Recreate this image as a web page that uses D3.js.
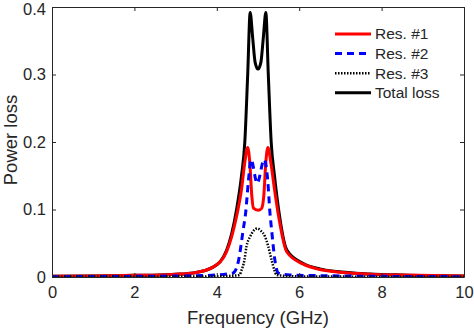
<!DOCTYPE html>
<meta charset="utf-8">
<body style="margin:0;background:#fff">
<style>
  text { font-family: "Liberation Sans", Arial, sans-serif; fill: #262626; }
  .line { fill: none; }
</style>
<script src="https://d3js.org/d3.v7.min.js"></script>
<script>
  // frequency (GHz) / power loss
  var totalF = [0, 1, 2, 2.62, 3, 3.43, 3.92, 4.24, 4.48, 4.6, 4.68, 4.75, 4.81, 4.87, 4.93, 5.0, 5.07, 5.13, 5.19, 5.25, 5.32, 5.4, 5.5, 5.7, 6.1, 6.5, 6.91, 7.72, 8.5, 10];
  var totalV = [0.001, 0.0015, 0.0025, 0.003, 0.004, 0.006, 0.015, 0.04, 0.1, 0.15, 0.2, 0.3, 0.392, 0.355, 0.318, 0.308, 0.318, 0.355, 0.392, 0.3, 0.2, 0.15, 0.1, 0.04, 0.02, 0.012, 0.008, 0.0045, 0.003, 0.0015];

  var res1F = [0, 1, 2, 2.62, 3, 3.43, 3.92, 4.24, 4.48, 4.6, 4.68, 4.75, 4.8, 4.85, 4.89, 5.0, 5.09, 5.14, 5.19, 5.24, 5.31, 5.4, 5.5, 5.7, 6.1, 6.5, 6.91, 7.72, 8.5, 10];
  var res1V = [0.001, 0.0015, 0.0025, 0.003, 0.004, 0.006, 0.015, 0.038, 0.09, 0.13, 0.17, 0.192, 0.17, 0.12, 0.102, 0.099, 0.102, 0.12, 0.17, 0.192, 0.17, 0.13, 0.09, 0.037, 0.019, 0.011, 0.0075, 0.0042, 0.0028, 0.0014];

  var res2F = [0, 2, 3, 3.5, 4, 4.3, 4.4, 4.53, 4.64, 4.7, 4.77, 4.83, 4.98, 5.15, 5.235, 5.29, 5.33, 5.41, 5.49, 5.6, 5.8, 6.5, 7, 8, 10];
  var res2V = [0.0005, 0.001, 0.0015, 0.002, 0.003, 0.005, 0.006, 0.025, 0.07, 0.095, 0.144, 0.174, 0.139, 0.174, 0.144, 0.095, 0.07, 0.025, 0.006, 0.004, 0.003, 0.002, 0.0015, 0.001, 0.0005];

  var res3F = [0, 3, 4, 4.4, 4.55, 4.6, 4.67, 4.72, 4.81, 4.9, 4.98, 5.06, 5.17, 5.25, 5.33, 5.4, 5.45, 5.6, 6, 7, 10];
  var res3V = [0.0003, 0.0006, 0.001, 0.002, 0.003, 0.01, 0.025, 0.045, 0.06, 0.069, 0.072, 0.069, 0.06, 0.045, 0.025, 0.01, 0.003, 0.002, 0.001, 0.0006, 0.0003];

  var xTicks = [0, 2, 4, 6, 8, 10];
  var yTicks = [0, 0.1, 0.2, 0.3, 0.4];

  var series = [
    {name: "Res. #1", f: res1F, v: res1V, color: "#ff0000", dash: null, w: 3},
    {name: "Res. #2", f: res2F, v: res2V, color: "#0000ff", dash: "7,5", w: 3},
    {name: "Res. #3", f: res3F, v: res3V, color: "#000", dash: "1.5,1.5", w: 2.5},
    {name: "Total loss", f: totalF, v: totalV, color: "#000", dash: null, w: 3}
  ];

  var width = 474, height = 331;
  var m = {left: 52, right: 10, top: 7, bottom: 54};

  var x = d3.scaleLinear().domain([0, 10]).range([m.left, width - m.right]);
  var y = d3.scaleLinear().domain([0, 0.4]).range([height - m.bottom, m.top]);

  var svg = d3.select("body").append("svg")
    .attr("width", width)
    .attr("height", height);

  svg.append("clipPath").attr("id", "clip")
    .append("rect")
    .attr("x", m.left).attr("y", m.top - 3)
    .attr("width", width - m.left - m.right).attr("height", height - m.top - m.bottom + 3);

  var line = d3.line()
    .x(function(d) { return x(d[0]); })
    .y(function(d) { return y(d[1]); })
    .curve(d3.curveMonotoneX);

  var plot = svg.append("g").attr("clip-path", "url(#clip)");

  // total first, then the resonators over it
  [3, 0, 1, 2].forEach(function(k) {
    var s = series[k];
    var pts = s.f.map(function(f, i) { return [f, s.v[i]]; });
    plot.append("path")
      .attr("class", "line")
      .attr("d", line(pts))
      .attr("stroke", s.color)
      .attr("stroke-width", s.w)
      .attr("stroke-dasharray", s.dash);
  });

  // axes with inward ticks, box all round
  var ax = svg.append("g").attr("transform", "translate(0," + y(0) + ")")
    .call(d3.axisBottom(x).tickValues(xTicks).tickSizeInner(-4).tickSizeOuter(0).tickPadding(9));
  var axTop = svg.append("g").attr("transform", "translate(0," + y(0.4) + ")")
    .call(d3.axisTop(x).tickValues(xTicks).tickSizeInner(-4).tickSizeOuter(0).tickFormat(""));
  var ay = svg.append("g").attr("transform", "translate(" + x(0) + ",0)")
    .call(d3.axisLeft(y).tickValues(yTicks).tickSizeInner(-4).tickSizeOuter(0).tickPadding(6)
      .tickFormat(function(d) { return d === 0 ? "0" : d3.format(".1f")(d); }));
  var ayR = svg.append("g").attr("transform", "translate(" + x(10) + ",0)")
    .call(d3.axisRight(y).tickValues(yTicks).tickSizeInner(-4).tickSizeOuter(0).tickFormat(""));

  [ax, axTop, ay, ayR].forEach(function(g) {
    g.select(".domain").attr("stroke", "#262626").attr("stroke-width", 1);
    g.selectAll(".tick line").attr("stroke", "#262626");
    g.selectAll(".tick text").style("font-size", "16.5px").attr("fill", "#262626")
      .style("font-family", '"Liberation Sans", Arial, sans-serif');
  });
  ay.selectAll(".tick text").filter(function(d) { return d === 0.4; }).attr("dy", "0.45em");

  svg.append("text")
    .attr("x", (x(0) + x(10)) / 2)
    .attr("y", 324)
    .attr("text-anchor", "middle")
    .style("font-size", "18.5px")
    .text("Frequency (GHz)");

  svg.append("text")
    .attr("transform", "translate(17," + ((y(0) + y(0.4)) / 2 - 2) + ") rotate(-90)")
    .attr("text-anchor", "middle")
    .style("font-size", "18.5px")
    .text("Power loss");

  // legend
  var leg = svg.append("g");
  series.forEach(function(s, i) {
    var ly = 34 + i * 19.6;
    leg.append("line")
      .attr("x1", 335).attr("x2", 371)
      .attr("y1", ly).attr("y2", ly)
      .attr("stroke", s.color)
      .attr("stroke-width", s.w)
      .attr("stroke-dasharray", s.dash);
    leg.append("text")
      .attr("x", 375).attr("y", ly)
      .attr("dy", "0.35em")
      .style("font-size", "15.5px")
      .text(s.name);
  });
</script>
</body>
